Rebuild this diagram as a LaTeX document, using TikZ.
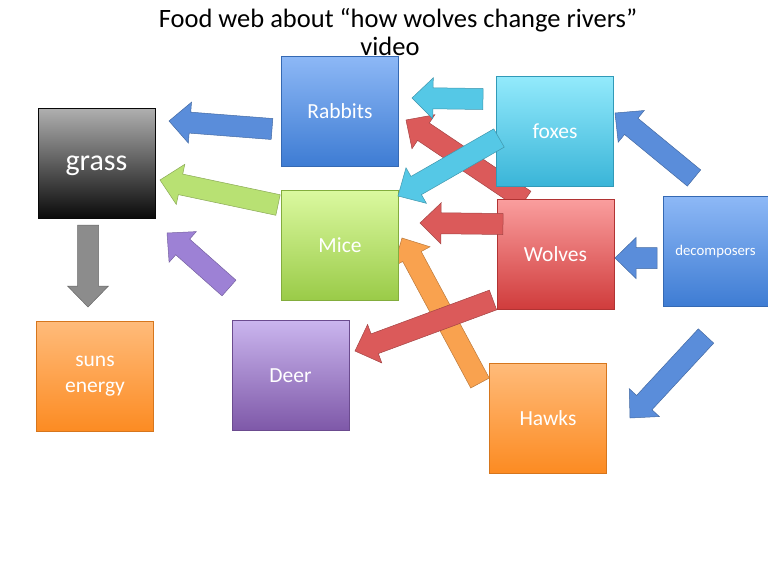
\documentclass[tikz,border=0pt]{standalone}
\usepackage{fontspec}
\setmainfont{Carlito}
\usetikzlibrary{calc}
\definecolor{arblue}{HTML}{5A8DDA}
\definecolor{argreen}{HTML}{B8E173}
\definecolor{arpurple}{HTML}{9D81D5}
\definecolor{argray}{HTML}{8C8C8C}
\definecolor{arcyan}{HTML}{55C8E6}
\definecolor{arred}{HTML}{DB5A5A}
\definecolor{arorange}{HTML}{F9A24F}
\definecolor{graytop}{HTML}{B0B0B0}
\definecolor{graybot}{HTML}{0A0A0A}
\definecolor{bluetop}{HTML}{8DB8F6}
\definecolor{bluebot}{HTML}{3E7CD3}
\definecolor{cyantop}{HTML}{93EAFC}
\definecolor{cyanbot}{HTML}{3AB5D8}
\definecolor{greentop}{HTML}{DBF9A0}
\definecolor{greenbot}{HTML}{9ACB48}
\definecolor{redtop}{HTML}{FA9E9E}
\definecolor{redbot}{HTML}{D03C3C}
\definecolor{orangetop}{HTML}{FFBB7A}
\definecolor{orangebot}{HTML}{FC8B22}
\definecolor{purpletop}{HTML}{CAB5EE}
\definecolor{purplebot}{HTML}{7E58A8}
\newcommand{\blockarrow}[3]{%
  \coordinate (hb) at ($(#3)!21pt!(#2)$);
  \filldraw[#1] ($(#2)!10.5pt!90:(#3)$) -- ($(hb)!10.5pt!90:(#3)$) -- ($(hb)!20.5pt!90:(#3)$) -- (#3)
    -- ($(hb)!20.5pt!-90:(#3)$) -- ($(hb)!10.5pt!-90:(#3)$) -- ($(#2)!10.5pt!-90:(#3)$) -- cycle;}
\begin{document}
\begin{tikzpicture}[x=1pt,y=-1pt,
  box/.style={draw=#1bot!85!black,line width=0.5pt,top color=#1top,bottom color=#1bot,minimum width=117pt,minimum height=110pt,inner sep=0pt,text=white,align=center,font=\fontsize{21.5}{26}\selectfont},
  arr/.style={fill=#1,draw=#1!75!black,line width=0.5pt}]
\useasboundingbox (0,0) rectangle (768,576);
\node[anchor=base,font=\fontsize{26.5}{28}\selectfont] (t1) at (398,27) {Food web about “how wolves change rivers”};
\node[anchor=base,font=\fontsize{26.5}{28}\selectfont] (t2) at (390,55) {video};
\coordinate (wrT) at (525,200); \coordinate (wrH) at (406,120);
\coordinate (hmT) at (480,383); \coordinate (hmH) at (402,238);
\blockarrow{arr=arred}{wrT}{wrH}
\blockarrow{arr=arorange}{hmT}{hmH}
\node[box=gray, font=\fontsize{30}{32}\selectfont, text depth=0pt] (grass) at (96.5,163) {grass};
\node[box=blue] (rabbits) at (340,111) {Rabbits};
\node[box=cyan] (foxes) at (555,131) {foxes};
\node[box=green] (mice) at (340,245) {Mice};
\node[box=red] (wolves) at (555.5,254) {Wolves};
\node[box=blue, minimum width=105pt, font=\fontsize{14.8}{17}\selectfont] (decomp) at (715.5,251.5) {decomposers};
\node[box=orange] (suns) at (95,376.5) {suns\\energy};
\node[box=purple] (deer) at (290.5,375.5) {Deer};
\node[box=orange] (hawks) at (548,418) {Hawks};
\coordinate (rgT) at (272,129); \coordinate (rgH) at (169,121);
\coordinate (mgT) at (278,205); \coordinate (mgH) at (160,180);
\coordinate (dgT) at (229,288); \coordinate (dgH) at (167,233);
\coordinate (gsT) at (88,225); \coordinate (gsH) at (88,307);
\coordinate (frT) at (483,99); \coordinate (frH) at (412,98);
\coordinate (fmT) at (499,138); \coordinate (fmH) at (398,196);
\coordinate (wmT) at (503,224); \coordinate (wmH) at (420,223);
\coordinate (dwT) at (657,258); \coordinate (dwH) at (615,258);
\coordinate (dfT) at (694,178); \coordinate (dfH) at (615,113);
\coordinate (dhT) at (706,336); \coordinate (dhH) at (630,418);
\coordinate (wdT) at (493,300); \coordinate (wdH) at (355,351);
\blockarrow{arr=arblue}{rgT}{rgH}
\blockarrow{arr=argreen}{mgT}{mgH}
\blockarrow{arr=arpurple}{dgT}{dgH}
\blockarrow{arr=argray}{gsT}{gsH}
\blockarrow{arr=arcyan}{frT}{frH}
\blockarrow{arr=arcyan}{fmT}{fmH}
\blockarrow{arr=arred}{wmT}{wmH}
\blockarrow{arr=arblue}{dwT}{dwH}
\blockarrow{arr=arblue}{dfT}{dfH}
\blockarrow{arr=arblue}{dhT}{dhH}
\blockarrow{arr=arred}{wdT}{wdH}
\end{tikzpicture}
\end{document}
